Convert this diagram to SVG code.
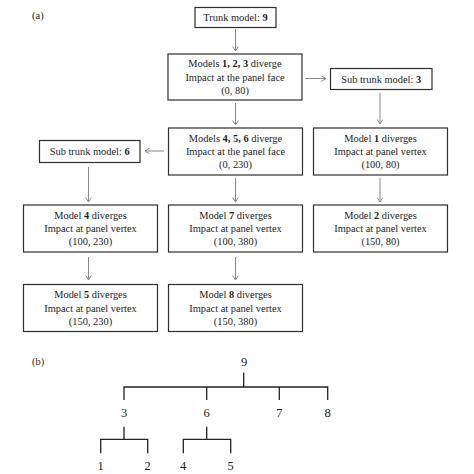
<svg xmlns="http://www.w3.org/2000/svg" width="474" height="474" viewBox="0 0 474 474">
<defs>
<style>
text{font-family:"Liberation Serif","Times New Roman",serif;fill:#1e1e1e}
.t{font-size:10.4px;text-anchor:middle}
.b{font-weight:bold}
.box{fill:#fff;stroke:#2e2e2e;stroke-width:1.2}
.arr{stroke:#8a8a8a;stroke-width:1;fill:none;marker-end:url(#ah)}
.tree{stroke:#222;stroke-width:1.3;fill:none}
.n{font-size:12.5px;text-anchor:middle}
.lab{font-size:10.5px}
</style>
<marker id="ah" markerWidth="8" markerHeight="8" refX="5" refY="3" orient="auto" markerUnits="userSpaceOnUse">
<path d="M0.5,0.2 L5,3 L0.5,5.8" fill="none" stroke="#8a8a8a" stroke-width="1"/>
</marker>
</defs>
<rect width="474" height="474" fill="#fff"/>
<text class="lab" x="32" y="19">(a)</text>
<g id="connectors">
<line class="arr" x1="235.5" y1="29" x2="235.5" y2="51"/>
<line class="arr" x1="235.5" y1="103" x2="235.5" y2="125"/>
<line class="arr" x1="305" y1="78.5" x2="326" y2="78.5"/>
<line class="arr" x1="164" y1="151" x2="145" y2="151"/>
<line class="arr" x1="380" y1="93" x2="380" y2="124"/>
<line class="arr" x1="235.5" y1="178" x2="235.5" y2="202"/>
<line class="arr" x1="88.5" y1="167" x2="88.5" y2="202"/>
<line class="arr" x1="380" y1="178" x2="380" y2="202"/>
<line class="arr" x1="88.5" y1="257" x2="88.5" y2="280"/>
<line class="arr" x1="235.5" y1="257" x2="235.5" y2="280"/>
</g>
<g id="trunk9">
<rect class="box" x="195" y="7.5" width="81" height="20"/>
<text class="t" x="235.5" y="21.2">Trunk model: <tspan class="b">9</tspan></text>
</g>
<g id="m123">
<rect class="box" x="168" y="54" width="134" height="46"/>
<text class="t" x="235" y="67.3">Models <tspan class="b">1, 2, 3</tspan> diverge</text>
<text class="t" x="235" y="80.6">Impact at the panel face</text>
<text class="t" x="235" y="94">(0, 80)</text>
</g>
<g id="sub3">
<rect class="box" x="330.5" y="68.5" width="101.5" height="21"/>
<text class="t" x="381.2" y="82.6">Sub trunk model: <tspan class="b">3</tspan></text>
</g>
<g id="m456">
<rect class="box" x="168.5" y="128" width="134" height="47"/>
<text class="t" x="235.5" y="141.8">Models <tspan class="b">4, 5, 6</tspan> diverge</text>
<text class="t" x="235.5" y="155.1">Impact at the panel face</text>
<text class="t" x="235.5" y="168.4">(0, 230)</text>
</g>
<g id="m1">
<rect class="box" x="313.5" y="128" width="134" height="47"/>
<text class="t" x="380.5" y="141.8">Model <tspan class="b">1</tspan> diverges</text>
<text class="t" x="380.5" y="155.1">Impact at panel vertex</text>
<text class="t" x="380.5" y="168.4">(100, 80)</text>
</g>
<g id="sub6">
<rect class="box" x="39.5" y="140.5" width="100.5" height="22"/>
<text class="t" x="89.7" y="155.2">Sub trunk model: <tspan class="b">6</tspan></text>
</g>
<g id="m4">
<rect class="box" x="23.5" y="205" width="134" height="47"/>
<text class="t" x="90.5" y="218.8">Model <tspan class="b">4</tspan> diverges</text>
<text class="t" x="90.5" y="232.1">Impact at panel vertex</text>
<text class="t" x="90.5" y="245.4">(100, 230)</text>
</g>
<g id="m7">
<rect class="box" x="168.5" y="205" width="134" height="47"/>
<text class="t" x="235.5" y="218.8">Model <tspan class="b">7</tspan> diverges</text>
<text class="t" x="235.5" y="232.1">Impact at panel vertex</text>
<text class="t" x="235.5" y="245.4">(100, 380)</text>
</g>
<g id="m2">
<rect class="box" x="313.5" y="205" width="134" height="47"/>
<text class="t" x="380.5" y="218.8">Model <tspan class="b">2</tspan> diverges</text>
<text class="t" x="380.5" y="232.1">Impact at panel vertex</text>
<text class="t" x="380.5" y="245.4">(150, 80)</text>
</g>
<g id="m5">
<rect class="box" x="23.5" y="284.5" width="134" height="47"/>
<text class="t" x="90.5" y="298.3">Model <tspan class="b">5</tspan> diverges</text>
<text class="t" x="90.5" y="311.6">Impact at panel vertex</text>
<text class="t" x="90.5" y="324.9">(150, 230)</text>
</g>
<g id="m8">
<rect class="box" x="168.5" y="284.5" width="134" height="47"/>
<text class="t" x="235.5" y="298.3">Model <tspan class="b">8</tspan> diverges</text>
<text class="t" x="235.5" y="311.6">Impact at panel vertex</text>
<text class="t" x="235.5" y="324.9">(150, 380)</text>
</g>
<text class="lab" x="32" y="364.5">(b)</text>
<g id="tree-lines">
<path class="tree" d="M243.7,372.5 V387 M124,400 V387 H327.7 V400 M206.7,387 V400 M279.3,387 V400"/>
<path class="tree" d="M124,426.7 V439.3 M100.7,453.3 V439.3 H147.7 V453.3"/>
<path class="tree" d="M206.7,426.7 V439.3 M183.3,453.3 V439.3 H230.7 V453.3"/>
</g>
<g id="tree-nodes">
<text class="n" x="244" y="366">9</text>
<text class="n" x="124" y="417">3</text>
<text class="n" x="206.7" y="417">6</text>
<text class="n" x="279.3" y="417">7</text>
<text class="n" x="327.7" y="417">8</text>
<text class="n" x="100.7" y="470.3">1</text>
<text class="n" x="147.7" y="470.3">2</text>
<text class="n" x="183" y="470.3">4</text>
<text class="n" x="230.7" y="470.3">5</text>
</g>
</svg>
